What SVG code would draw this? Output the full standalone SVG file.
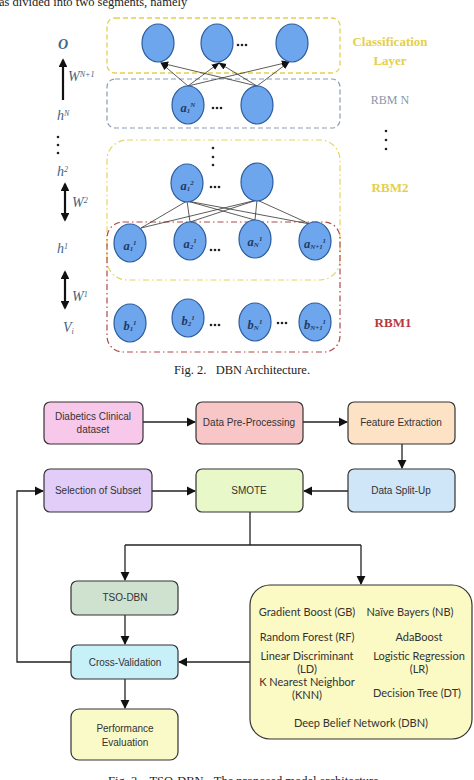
<svg xmlns="http://www.w3.org/2000/svg" width="474" height="780" viewBox="0 0 474 780">
<style>
.node{fill:#6ea6ee;stroke:#2b5c9e;stroke-width:1.2}
.lbl{font-family:"Liberation Serif",serif;font-weight:bold;font-style:italic;font-size:12.5px;fill:#1f3a66;text-anchor:middle}
.side{font-family:"Liberation Serif",serif;font-style:italic;font-size:14px;fill:#3d6685}
.cap{font-family:"Liberation Serif",serif;font-size:12.5px;fill:#222}
.dot{fill:#222}
.fc{stroke:#333;stroke-width:1.2}
.ft{font-family:"Liberation Sans",Arial,sans-serif;font-size:10px;fill:#333;text-anchor:middle}
.mt{font-family:Lato,"Liberation Sans",sans-serif;font-size:11px;fill:#333;text-anchor:middle}
.ln{fill:none;stroke:#222;stroke-width:1.3}
.thin{fill:none;stroke:#333;stroke-width:0.8}
</style>
<defs>
<marker id="ah" viewBox="0 0 10 10" refX="9" refY="5" markerWidth="7" markerHeight="7" orient="auto-start-reverse"><path d="M0,0 L10,5 L0,10 z" fill="#111"/></marker>
<marker id="ahs" viewBox="0 0 10 10" refX="9" refY="5" markerWidth="8" markerHeight="8" markerUnits="userSpaceOnUse" orient="auto"><path d="M0,1 L10,5 L0,9 z" fill="#111"/></marker>
<marker id="ahb" viewBox="0 0 10 10" refX="8" refY="5" markerWidth="4" markerHeight="4" orient="auto-start-reverse"><path d="M0,0 L10,5 L0,10 z" fill="#111"/></marker>
</defs>
<rect width="474" height="780" fill="#fff"/>
<text class="cap" x="-1" y="6" font-size="14.5">as divided into two segments, namely</text>

<!-- DBN layer boxes -->
<g id="classification-layer">
<rect x="107" y="18" width="233" height="55" rx="8" fill="none" stroke="#e6cf4a" stroke-width="1.3" stroke-dasharray="5,3"/>
<text x="390" y="46" font-family="Liberation Serif,serif" font-weight="bold" font-size="13" fill="#e6cf4a" text-anchor="middle">Classification</text>
<text x="390" y="65" font-family="Liberation Serif,serif" font-weight="bold" font-size="13" fill="#e6cf4a" text-anchor="middle">Layer</text>
</g>
<g id="rbm-n">
<rect x="107" y="79" width="233" height="49" rx="8" fill="none" stroke="#8c9bb0" stroke-width="1.2" stroke-dasharray="5,3"/>
<text x="390" y="104" font-family="Liberation Serif,serif" font-size="12" fill="#8a96a8" text-anchor="middle">RBM N</text>
</g>
<g id="rbm2">
<rect x="107" y="140" width="233" height="140" rx="20" fill="none" stroke="#e6d45a" stroke-width="1.2" stroke-dasharray="6,3,1.5,3"/>
<text x="390" y="192" font-family="Liberation Serif,serif" font-weight="bold" font-size="13" fill="#e6cf4a" text-anchor="middle">RBM2</text>
</g>
<g id="rbm1">
<rect x="107" y="222" width="233" height="130" rx="16" fill="none" stroke="#b04848" stroke-width="1.2" stroke-dasharray="6,3,1.5,3"/>
<text x="393" y="327" font-family="Liberation Serif,serif" font-weight="bold" font-size="13" fill="#b8393d" text-anchor="middle">RBM1</text>
</g>

<!-- DBN connectors -->
<g id="dbn-connectors">
<line class="thin" x1="188" y1="86" x2="161" y2="63" marker-end="url(#ahs)"/>
<line class="thin" x1="188" y1="86" x2="219" y2="63" marker-end="url(#ahs)"/>
<line class="thin" x1="188" y1="86" x2="289" y2="62" marker-end="url(#ahs)"/>
<line class="thin" x1="257" y1="86" x2="161" y2="63" marker-end="url(#ahs)"/>
<line class="thin" x1="257" y1="86" x2="219" y2="63" marker-end="url(#ahs)"/>
<line class="thin" x1="257" y1="86" x2="289" y2="62" marker-end="url(#ahs)"/>
<line class="thin" x1="187" y1="201" x2="141" y2="228"/>
<line class="thin" x1="187" y1="201" x2="190" y2="222"/>
<line class="thin" x1="187" y1="201" x2="255" y2="220"/>
<line class="thin" x1="187" y1="201" x2="310" y2="224"/>
<line class="thin" x1="257" y1="200" x2="141" y2="228"/>
<line class="thin" x1="257" y1="200" x2="190" y2="222"/>
<line class="thin" x1="257" y1="200" x2="255" y2="220"/>
<line class="thin" x1="257" y1="200" x2="310" y2="224"/>
<line x1="63" y1="100" x2="63" y2="60" stroke="#111" stroke-width="2.2" marker-end="url(#ahb)"/>
<line x1="65" y1="184" x2="65" y2="220" stroke="#111" stroke-width="2.2" marker-start="url(#ahb)" marker-end="url(#ahb)"/>
<line x1="65" y1="272" x2="65" y2="308" stroke="#111" stroke-width="2.2" marker-start="url(#ahb)" marker-end="url(#ahb)"/>
</g>

<!-- DBN nodes -->
<g id="o1"><ellipse class="node" cx="158" cy="43" rx="16" ry="19"/></g>
<g id="o2"><ellipse class="node" cx="217" cy="43" rx="16" ry="19"/></g>
<g id="o3"><ellipse class="node" cx="292" cy="43" rx="16" ry="19"/></g>
<g id="hN1"><ellipse class="node" cx="188" cy="105" rx="16" ry="19"/><text class="lbl" x="188" y="112">a<tspan font-size="7" dy="1">1</tspan><tspan font-size="7" dy="-6">N</tspan></text></g>
<g id="hN2"><ellipse class="node" cx="257" cy="105" rx="16" ry="19"/></g>
<g id="h21"><ellipse class="node" cx="187" cy="183" rx="16" ry="19"/><text class="lbl" x="187" y="190">a<tspan font-size="7" dy="1">1</tspan><tspan font-size="7" dy="-6">2</tspan></text></g>
<g id="h22"><ellipse class="node" cx="257" cy="182" rx="16" ry="19"/></g>
<g id="h11"><ellipse class="node" cx="130" cy="243" rx="16" ry="19"/><text class="lbl" x="130" y="250">a<tspan font-size="7" dy="1">1</tspan><tspan font-size="7" dy="-6">1</tspan></text></g>
<g id="h12"><ellipse class="node" cx="190" cy="241" rx="16" ry="19"/><text class="lbl" x="190" y="248">a<tspan font-size="7" dy="1">2</tspan><tspan font-size="7" dy="-6">1</tspan></text></g>
<g id="h1N"><ellipse class="node" cx="255" cy="239" rx="16" ry="19"/><text class="lbl" x="255" y="246">a<tspan font-size="7" dy="1">N</tspan><tspan font-size="7" dy="-6">1</tspan></text></g>
<g id="h1N1"><ellipse class="node" cx="315" cy="241" rx="16" ry="19"/><text class="lbl" x="315" y="248">a<tspan font-size="7" dy="1">N+1</tspan><tspan font-size="7" dy="-6">1</tspan></text></g>
<g id="v1"><ellipse class="node" cx="130" cy="323" rx="16" ry="19"/><text class="lbl" x="130" y="330">b<tspan font-size="7" dy="1">1</tspan><tspan font-size="7" dy="-6">1</tspan></text></g>
<g id="v2"><ellipse class="node" cx="188" cy="318" rx="16" ry="19"/><text class="lbl" x="188" y="325">b<tspan font-size="7" dy="1">2</tspan><tspan font-size="7" dy="-6">1</tspan></text></g>
<g id="vN"><ellipse class="node" cx="255" cy="322" rx="16" ry="19"/><text class="lbl" x="255" y="329">b<tspan font-size="7" dy="1">N</tspan><tspan font-size="7" dy="-6">1</tspan></text></g>
<g id="vN1"><ellipse class="node" cx="315" cy="322" rx="16" ry="19"/><text class="lbl" x="315" y="329">b<tspan font-size="7" dy="1">N+1</tspan><tspan font-size="7" dy="-6">1</tspan></text></g>

<!-- ellipsis dots -->
<g id="dots">
<circle class="dot" cx="238" cy="45" r="1.3"/><circle class="dot" cx="242" cy="45" r="1.3"/><circle class="dot" cx="246" cy="45" r="1.3"/>
<circle class="dot" cx="213" cy="108" r="1.3"/><circle class="dot" cx="217" cy="108" r="1.3"/><circle class="dot" cx="221" cy="108" r="1.3"/>
<circle class="dot" cx="211" cy="187" r="1.3"/><circle class="dot" cx="215" cy="187" r="1.3"/><circle class="dot" cx="219" cy="187" r="1.3"/>
<circle class="dot" cx="211" cy="250" r="1.3"/><circle class="dot" cx="215" cy="250" r="1.3"/><circle class="dot" cx="219" cy="250" r="1.3"/>
<circle class="dot" cx="211" cy="325" r="1.3"/><circle class="dot" cx="215" cy="325" r="1.3"/><circle class="dot" cx="219" cy="325" r="1.3"/>
<circle class="dot" cx="278" cy="323" r="1.3"/><circle class="dot" cx="282" cy="323" r="1.3"/><circle class="dot" cx="286" cy="323" r="1.3"/>
<circle class="dot" cx="213" cy="148" r="1.3"/><circle class="dot" cx="213" cy="157" r="1.3"/><circle class="dot" cx="213" cy="165" r="1.3"/>
<circle class="dot" cx="58" cy="137" r="1.3"/><circle class="dot" cx="58" cy="145" r="1.3"/><circle class="dot" cx="58" cy="153" r="1.3"/>
<circle class="dot" cx="386" cy="131" r="1.3"/><circle class="dot" cx="386" cy="140" r="1.3"/><circle class="dot" cx="386" cy="149" r="1.3"/>
</g>

<!-- left labels -->
<g id="side-labels">
<text class="side" x="58" y="49" font-weight="bold">O</text>
<text class="side" x="68" y="81">W<tspan font-size="8" dy="-4">N+1</tspan></text>
<text class="side" x="57" y="120">h<tspan font-size="8" dy="-4">N</tspan></text>
<text class="side" x="57" y="176">h<tspan font-size="8" dy="-4">2</tspan></text>
<text class="side" x="72" y="207">W<tspan font-size="8" dy="-4">2</tspan></text>
<text class="side" x="57" y="253">h<tspan font-size="8" dy="-4">1</tspan></text>
<text class="side" x="72" y="301">W<tspan font-size="8" dy="-4">1</tspan></text>
<text class="side" x="63" y="332">V<tspan font-size="8" dy="2">i</tspan></text>
</g>
<text class="cap" x="242" y="374" text-anchor="middle">Fig. 2.&#160;&#160; DBN Architecture.</text>

<!-- flowchart connectors -->
<g id="flow-connectors">
<line class="ln" x1="143" y1="422" x2="195" y2="422" marker-end="url(#ah)"/>
<line class="ln" x1="303" y1="422" x2="347" y2="422" marker-end="url(#ah)"/>
<line class="ln" x1="402" y1="444" x2="402" y2="468" marker-end="url(#ah)"/>
<line class="ln" x1="152" y1="491" x2="195" y2="491" marker-end="url(#ah)"/>
<line class="ln" x1="348" y1="491" x2="304" y2="491" marker-end="url(#ah)"/>
<polyline class="ln" points="71,662 17,662 17,491 43,491" marker-end="url(#ah)"/>
<line class="ln" x1="250" y1="512" x2="250" y2="545"/>
<line class="ln" x1="125" y1="545" x2="361" y2="545"/>
<line class="ln" x1="125" y1="545" x2="125" y2="580" marker-end="url(#ah)"/>
<line class="ln" x1="361" y1="545" x2="361" y2="584" marker-end="url(#ah)"/>
<line class="ln" x1="125" y1="615" x2="125" y2="644" marker-end="url(#ah)"/>
<line class="ln" x1="250" y1="662" x2="179" y2="662" marker-end="url(#ah)"/>
<line class="ln" x1="125" y1="679" x2="125" y2="708" marker-end="url(#ah)"/>
</g>

<!-- flowchart nodes -->
<g id="diabetics-dataset"><rect class="fc" x="44" y="402" width="99" height="42" rx="6" fill="#f8c8ea"/><text class="ft" x="93" y="420">Diabetics Clinical</text><text class="ft" x="93" y="433">dataset</text></g>
<g id="pre-processing"><rect class="fc" x="196" y="402" width="107" height="42" rx="6" fill="#f8c6c6"/><text class="ft" x="249" y="426">Data Pre-Processing</text></g>
<g id="feature-extraction"><rect class="fc" x="348" y="402" width="107" height="42" rx="6" fill="#fde2c6"/><text class="ft" x="401" y="426">Feature Extraction</text></g>
<g id="selection-subset"><rect class="fc" x="44" y="469" width="108" height="43" rx="6" fill="#e2cdf8"/><text class="ft" x="98" y="494">Selection of Subset</text></g>
<g id="smote"><rect class="fc" x="196" y="469" width="107" height="43" rx="6" fill="#e8f8c8"/><text class="ft" x="249" y="494">SMOTE</text></g>
<g id="data-split"><rect class="fc" x="348" y="469" width="107" height="43" rx="6" fill="#cfe5f8"/><text class="ft" x="401" y="494">Data Split-Up</text></g>
<g id="tso-dbn"><rect class="fc" x="71" y="581" width="107" height="34" rx="6" fill="#cfe2cf"/><text class="ft" x="125" y="601">TSO-DBN</text></g>
<g id="cross-validation"><rect class="fc" x="71" y="645" width="107" height="34" rx="6" fill="#c8f0f8"/><text class="ft" x="125" y="666">Cross-Validation</text></g>
<g id="performance"><rect class="fc" x="71" y="709" width="107" height="51" rx="8" fill="#fafac8"/><text class="ft" x="125" y="732">Performance</text><text class="ft" x="125" y="746">Evaluation</text></g>
<g id="classifiers">
<rect class="fc" x="250" y="585" width="222" height="154" rx="20" fill="#fbf9c4"/>
<text class="mt" x="307" y="616">Gradient Boost (GB)</text>
<text class="mt" x="410" y="616">Naïve Bayers (NB)</text>
<text class="mt" x="307" y="641">Random Forest (RF)</text>
<text class="mt" x="419" y="641">AdaBoost</text>
<text class="mt" x="307" y="660">Linear Discriminant</text>
<text class="mt" x="307" y="673">(LD)</text>
<text class="mt" x="419" y="660">Logistic Regression</text>
<text class="mt" x="419" y="673">(LR)</text>
<text class="mt" x="307" y="686">K Nearest Neighbor</text>
<text class="mt" x="307" y="699">(KNN)</text>
<text class="mt" x="417" y="697">Decision Tree (DT)</text>
<text class="mt" x="361" y="727">Deep Belief Network (DBN)</text>
</g>
<text class="cap" x="108" y="785" font-size="12">Fig. 3.&#160;&#160; TSO-DBN - The proposed model architecture</text>
</svg>
